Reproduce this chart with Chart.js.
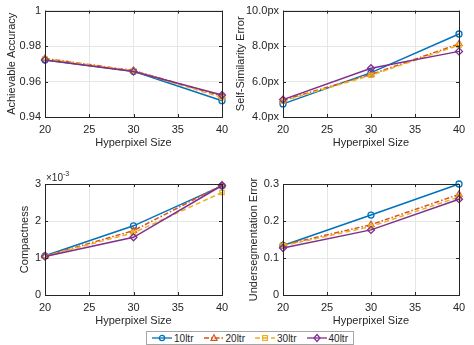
<!DOCTYPE html>
<html>
<head>
<meta charset="utf-8">
<script src="https://cdn.jsdelivr.net/npm/chart.js@4.4.1/dist/chart.umd.min.js"></script>
<style>
  body { margin: 0; background: #fff; width: 474px; height: 345px; position: relative; overflow: hidden; font-family: "Liberation Sans", Arial, sans-serif; }
  canvas { position: absolute; }
  #legend { position: absolute; left: 146px; top: 331px; width: 206px; height: 12px; border: 1px solid #a6a6a6; background: #fff;
            display: flex; align-items: center; justify-content: space-around; font-size: 10px; color: #262626; }
  #legend span.item { display: flex; align-items: center; }
  #legend svg { margin-right: 2px; }
</style>
</head>
<body>
<canvas id="accChart" width="237" height="155" style="left:0;top:0"></canvas>
<canvas id="sseChart" width="243" height="155" style="left:231px;top:0"></canvas>
<canvas id="cmpChart" width="237" height="165" style="left:0;top:168px"></canvas>
<canvas id="ueChart" width="243" height="165" style="left:231px;top:168px"></canvas>
<div id="legend"></div>

<script>
// hyperpixel sizes (x axis)
const sizes = [20, 30, 40];
const seriesNames = ['10ltr', '20ltr', '30ltr', '40ltr'];

// Achievable Accuracy
const acc10 = [0.9722, 0.9658, 0.9492];
const acc20 = [0.9730, 0.9662, 0.9518];
const acc30 = [0.9728, 0.9660, 0.9510];
const acc40 = [0.9722, 0.9656, 0.9524];

// Self-Similarity Error (px)
const sse10 = [4.74, 6.50, 8.68];
const sse20 = [4.95, 6.40, 8.12];
const sse30 = [4.90, 6.35, 8.05];
const sse40 = [4.98, 6.75, 7.70];

// Compactness (x 10^-3)
const cmp10 = [1.06, 1.87, 2.95];
const cmp20 = [1.05, 1.74, 2.97];
const cmp30 = [1.05, 1.68, 2.77];
const cmp40 = [1.04, 1.56, 2.96];

// Undersegmentation Error
const ue10 = [0.134, 0.216, 0.300];
const ue20 = [0.135, 0.190, 0.272];
const ue30 = [0.133, 0.185, 0.265];
const ue40 = [0.127, 0.176, 0.259];

const xTicks = [20, 25, 30, 35, 40];

// MATLAB default colours / styles
const styles = [
    { color: '#0072BD', dash: [], point: 'circle', radius: 3 },
    { color: '#D95319', dash: [5, 2, 1.5, 2], point: 'triangle', radius: 3.5 },
    { color: '#EDB120', dash: [5, 3], point: 'rect', radius: 3 },
    { color: '#7E2F8E', dash: [], point: 'rectRot', radius: 3.5 }
];

const axisColor = '#262626';
const font = { family: '"Liberation Sans", Arial, sans-serif', size: 11 };

// draws the box around the axes and inward tick marks
const boxPlugin = {
    id: 'box',
    afterDatasetsDraw(chart) {
        const { ctx, chartArea: a, scales } = chart;
        ctx.save();
        ctx.strokeStyle = axisColor;
        ctx.lineWidth = 1;
        ctx.beginPath();
        scales.x.ticks.forEach(t => {
            const px = Math.round(scales.x.getPixelForValue(t.value)) + 0.5;
            ctx.moveTo(px, a.bottom); ctx.lineTo(px, a.bottom - 3);
            ctx.moveTo(px, a.top); ctx.lineTo(px, a.top + 3);
        });
        scales.y.ticks.forEach(t => {
            const py = Math.round(scales.y.getPixelForValue(t.value)) + 0.5;
            ctx.moveTo(a.left, py); ctx.lineTo(a.left + 3, py);
            ctx.moveTo(a.right, py); ctx.lineTo(a.right - 3, py);
        });
        ctx.stroke();
        ctx.strokeRect(Math.round(a.left) + 0.5, Math.round(a.top) + 0.5,
                       Math.round(a.right - a.left), Math.round(a.bottom - a.top));
        ctx.restore();
    }
};

// "x10^-3" exponent label over the compactness axis
const exponentPlugin = {
    id: 'exponent',
    afterDraw(chart, args, opts) {
        if (!opts.text) return;
        const { ctx, chartArea: a } = chart;
        ctx.save();
        ctx.fillStyle = axisColor;
        ctx.textBaseline = 'alphabetic';
        ctx.font = '10px "Liberation Sans", Arial, sans-serif';
        ctx.fillText('\u00d710', a.left + 1, a.top - 3);
        const w = ctx.measureText('\u00d710').width;
        ctx.font = '7px "Liberation Sans", Arial, sans-serif';
        ctx.fillText(opts.text, a.left + 1 + w, a.top - 8);
        ctx.restore();
    }
};

function makeChart(id, series, yOpts, layout) {
    const datasets = series.map((vals, i) => {
        const s = styles[i];
        return {
            label: seriesNames[i],
            data: vals.map((v, k) => ({ x: sizes[k], y: v })),
            borderColor: s.color,
            borderWidth: 1.5,
            borderDash: s.dash,
            pointStyle: s.point,
            pointRadius: s.radius,
            pointBorderWidth: 1.3,
            pointBorderColor: s.color,
            pointBackgroundColor: 'rgba(0,0,0,0)',
            tension: 0,
            clip: false,
            order: 3 - i
        };
    });

    return new Chart(document.getElementById(id), {
        type: 'line',
        data: { datasets: datasets },
        options: {
            responsive: false,
            animation: false,
            events: [],
            layout: { padding: { top: layout.top, right: layout.right, left: 0, bottom: 0 } },
            plugins: {
                legend: { display: false },
                tooltip: { enabled: false },
                exponent: { text: yOpts.exponent || '' }
            },
            scales: {
                x: {
                    type: 'linear',
                    min: 20, max: 40,
                    afterBuildTicks: s => { s.ticks = xTicks.map(v => ({ value: v })); },
                    afterFit: s => { s.height = layout.xh; },
                    grid: { color: '#e6e6e6', drawTicks: false },
                    border: { display: false },
                    ticks: { color: axisColor, font: font, padding: 6, maxRotation: 0 },
                    title: { display: true, text: 'Hyperpixel Size', color: axisColor, font: font, padding: { top: 0, bottom: 5 } }
                },
                y: {
                    min: yOpts.min, max: yOpts.max,
                    ticks: { stepSize: yOpts.step, color: axisColor, font: font, padding: 4, callback: yOpts.format },
                    afterFit: s => { s.width = layout.yw; },
                    grid: { color: '#e6e6e6', drawTicks: false },
                    border: { display: false },
                    title: { display: true, text: yOpts.title, color: axisColor, font: font, padding: { top: layout.tp, bottom: 0 } }
                }
            }
        },
        plugins: [boxPlugin, exponentPlugin]
    });
}

makeChart('accChart', [acc10, acc20, acc30, acc40],
    { min: 0.94, max: 1, step: 0.02, title: 'Achievable Accuracy', format: v => (Math.abs(v - 1) < 1e-9 ? '1' : v.toFixed(2)) },
    { top: 9, right: 15, yw: 45, xh: 38, tp: 5 });

makeChart('sseChart', [sse10, sse20, sse30, sse40],
    { min: 4, max: 10, step: 2, title: 'Self-Similarity Error', format: v => v.toFixed(1) + 'px' },
    { top: 9, right: 15, yw: 52, xh: 38, tp: 3 });

makeChart('cmpChart', [cmp10, cmp20, cmp30, cmp40],
    { min: 0, max: 3, step: 1, title: 'Compactness', exponent: '-3', format: v => String(v) },
    { top: 16, right: 15, yw: 45, xh: 38, tp: 18 });

makeChart('ueChart', [ue10, ue20, ue30, ue40],
    { min: 0, max: 0.3, step: 0.1, title: 'Undersegmentation Error', format: v => (v === 0 ? '0' : v.toFixed(1)) },
    { top: 16, right: 15, yw: 52, xh: 38, tp: 16 });

// legend (line sample + marker, like MATLAB)
function markerSvg(s) {
    const c = s.color;
    if (s.point === 'circle') return `<circle cx="10" cy="5" r="2.6" fill="none" stroke="${c}" stroke-width="1.2"/>`;
    if (s.point === 'triangle') return `<polygon points="10,1.8 13,7.3 7,7.3" fill="none" stroke="${c}" stroke-width="1.2"/>`;
    if (s.point === 'rect') return `<rect x="7.6" y="2.6" width="4.8" height="4.8" fill="none" stroke="${c}" stroke-width="1.2"/>`;
    return `<polygon points="10,1.5 13,5 10,8.5 7,5" fill="none" stroke="${c}" stroke-width="1.2"/>`;
}
const legendEl = document.getElementById('legend');
legendEl.innerHTML = seriesNames.map((name, i) => {
    const s = styles[i];
    const dash = s.dash.length ? `stroke-dasharray="${s.dash.join(' ')}"` : '';
    return `<span class="item"><svg width="20" height="10">
        <line x1="0" y1="5" x2="20" y2="5" stroke="${s.color}" stroke-width="1.3" ${dash}/>
        ${markerSvg(s)}</svg>${name}</span>`;
}).join('');
</script>
</body>
</html>
